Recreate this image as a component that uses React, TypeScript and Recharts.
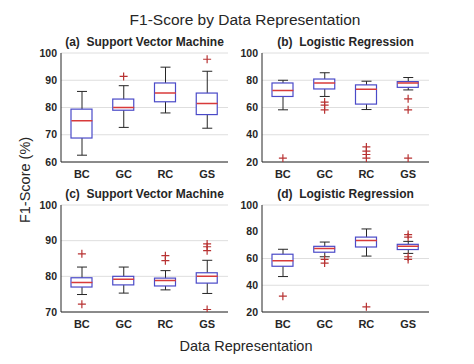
import React from "react";
import { ComposedChart, Bar, Scatter, XAxis, YAxis, CartesianGrid } from "recharts";

const categories = ["BC", "GC", "RC", "GS"];

// (a) Support Vector Machine, top row
const aLow = [62.5, 72.7, 78.0, 72.4];
const aQ1 = [68.8, 79.0, 82.1, 77.4];
const aMed = [75.1, 80.0, 85.3, 81.5];
const aQ3 = [79.4, 83.1, 89.0, 85.3];
const aHigh = [85.9, 88.0, 94.8, 93.3];
const aOut = [[], [91.4], [], [97.7]];

// (b) Logistic Regression, top row
const bLow = [58.3, 68.1, 58.5, 72.9];
const bQ1 = [68.1, 73.6, 62.5, 74.8];
const bMed = [72.4, 78.0, 73.4, 78.0];
const bQ3 = [78.0, 80.9, 76.6, 79.0];
const bHigh = [80.0, 85.5, 79.3, 82.0];
const bOut = [[22.8], [64.0, 61.7, 58.3], [31.1, 28.0, 25.5, 22.8], [66.4, 58.3, 22.8]];

// (c) Support Vector Machine, bottom row
const cLow = [74.9, 75.3, 76.2, 75.2];
const cQ1 = [77.0, 77.6, 77.3, 78.1];
const cMed = [78.3, 79.2, 78.8, 80.0];
const cQ3 = [79.6, 80.0, 79.5, 81.0];
const cHigh = [82.6, 82.6, 81.6, 84.5];
const cOut = [[86.3, 72.2], [], [85.8, 84.4], [89.1, 88.3, 87.2, 70.7]];

// (d) Logistic Regression, bottom row
const dLow = [46.5, 61.3, 61.8, 63.8];
const dQ1 = [54.2, 64.7, 68.6, 66.7];
const dMed = [58.3, 67.4, 73.5, 69.1];
const dQ3 = [63.2, 69.1, 76.0, 70.6];
const dHigh = [66.9, 72.3, 82.1, 72.8];
const dOut = [[31.8], [59.3, 56.6], [23.9], [77.9, 76.0, 61.3, 59.3]];

const ticksA = [60, 70, 80, 90, 100];
const ticksLR = [20, 40, 60, 80, 100];
const ticksC = [70, 80, 90, 100];

const FONT = "'Liberation Sans', Arial, sans-serif";
const INK = "#262626";
const BOX_BLUE = "#4a4ac8";
const MED_RED = "#d83a3a";
const OUT_RED = "#b83232";
const MAX_OUT = 5;
const BOX_W = 21;

function WhiskerShape(props: any) {
  const { x, y, width, height } = props;
  const top = Math.min(y, y + height);
  const bot = Math.max(y, y + height);
  const cx = x + width / 2;
  return (
    <g stroke={INK} strokeWidth={1}>
      <line x1={cx} x2={cx} y1={top} y2={bot} />
      <line x1={x} x2={x + width} y1={top} y2={top} />
      <line x1={x} x2={x + width} y1={bot} y2={bot} />
    </g>
  );
}

function BoxShape(props: any) {
  const { x, y, width, height } = props;
  const top = Math.min(y, y + height);
  return (
    <rect x={x} y={top} width={width} height={Math.abs(height)} fill="#fff" stroke={BOX_BLUE} strokeWidth={1.2} />
  );
}

function MedianShape(props: any) {
  const { cx, cy } = props;
  return <line x1={cx - BOX_W / 2} x2={cx + BOX_W / 2} y1={cy} y2={cy} stroke={MED_RED} strokeWidth={1.5} />;
}

const plusFor = (key: string) => (props: any) => {
  const { cx, cy, payload } = props;
  if (!payload || payload[key] == null || !isFinite(cy)) return <g />;
  return (
    <g stroke={OUT_RED} strokeWidth={1.2}>
      <line x1={cx - 4} x2={cx + 4} y1={cy} y2={cy} />
      <line x1={cx} x2={cx} y1={cy - 4} y2={cy + 4} />
    </g>
  );
};

type PanelProps = {
  title: string;
  low: number[];
  q1: number[];
  med: number[];
  q3: number[];
  high: number[];
  out: number[][];
  domain: [number, number];
  ticks: number[];
  left: number;
  top: number;
  yWidth: number;
  plotW: number;
  plotH: number;
};

function Panel({ title, low, q1, med, q3, high, out, domain, ticks, left, top, yWidth, plotW, plotH }: PanelProps) {
  const rows = categories.map((c, i) => {
    const r: any = { cat: c, whisk: [low[i], high[i]], box: [q1[i], q3[i]], med: med[i] };
    for (let k = 0; k < MAX_OUT; k++) r["out" + k] = out[i][k] ?? null;
    return r;
  });
  const mTop = 5;
  const xH = 22;
  const width = yWidth + plotW + 2;
  const height = mTop + plotH + xH;
  const tickStyle = { fontSize: 10.5, fontWeight: 700, fill: INK, fontFamily: FONT };
  return (
    <div style={{ position: "absolute", left, top, width, height }}>
      <div
        style={{
          position: "absolute",
          left: yWidth,
          width: plotW,
          top: -13,
          textAlign: "center",
          fontFamily: FONT,
          fontWeight: 700,
          fontSize: 12,
          color: INK,
          whiteSpace: "pre",
          lineHeight: "14px",
        }}
      >
        {title}
      </div>
      <ComposedChart width={width} height={height} data={rows} margin={{ top: mTop, right: 2, bottom: 0, left: 0 }}>
        <CartesianGrid vertical={false} stroke="#dedede" />
        <XAxis
          dataKey="cat"
          height={xH}
          tickSize={0}
          tickMargin={8}
          axisLine={{ stroke: INK }}
          tick={{ ...tickStyle, fontSize: 11 }}
        />
        <XAxis xAxisId="w" dataKey="cat" hide />
        <XAxis xAxisId="b" dataKey="cat" hide />
        <XAxis xAxisId="top" orientation="top" dataKey="cat" height={0} tick={false} tickLine={false} axisLine={{ stroke: INK }} />
        <YAxis
          domain={domain}
          ticks={ticks}
          type="number"
          width={yWidth}
          tickSize={0}
          tickMargin={4}
          axisLine={{ stroke: INK }}
          tick={tickStyle}
          allowDataOverflow
        />
        <YAxis yAxisId="r" orientation="right" domain={domain} width={0} tick={false} tickLine={false} axisLine={{ stroke: INK }} />
        <Bar xAxisId="w" dataKey="whisk" barSize={10} shape={WhiskerShape} isAnimationActive={false} />
        <Bar xAxisId="b" dataKey="box" barSize={BOX_W} shape={BoxShape} isAnimationActive={false} />
        <Scatter dataKey="med" shape={MedianShape} isAnimationActive={false} />
        {Array.from({ length: MAX_OUT }, (_, k) => (
          <Scatter key={k} dataKey={"out" + k} shape={plusFor("out" + k)} isAnimationActive={false} />
        ))}
      </ComposedChart>
    </div>
  );
}

export default function App() {
  return (
    <div style={{ position: "absolute", left: 0, top: 0, width: 474, height: 364, background: "#fff", fontFamily: FONT }}>
      <div style={{ position: "absolute", left: 0, width: 490, top: 11, textAlign: "center", fontSize: 15.5, color: INK }}>
        F1-Score by Data Representation
      </div>
      <div
        style={{
          position: "absolute",
          left: 25,
          top: 180,
          transform: "translate(-50%, -50%) rotate(-90deg)",
          fontSize: 14.5,
          color: INK,
          whiteSpace: "nowrap",
        }}
      >
        F1-Score (%)
      </div>
      <div style={{ position: "absolute", left: 0, width: 492, top: 338, textAlign: "center", fontSize: 14.5, color: INK }}>
        Data Representation
      </div>
      <Panel title="(a)  Support Vector Machine" low={aLow} q1={aQ1} med={aMed} q3={aQ3} high={aHigh} out={aOut}
        domain={[60, 100]} ticks={ticksA} left={0} top={48} yWidth={61} plotW={167} plotH={109} />
      <Panel title="(b)  Logistic Regression" low={bLow} q1={bQ1} med={bMed} q3={bQ3} high={bHigh} out={bOut}
        domain={[20, 100]} ticks={ticksLR} left={222} top={48} yWidth={40} plotW={167} plotH={109} />
      <Panel title="(c)  Support Vector Machine" low={cLow} q1={cQ1} med={cMed} q3={cQ3} high={cHigh} out={cOut}
        domain={[70, 100]} ticks={ticksC} left={0} top={200} yWidth={61} plotW={167} plotH={107} />
      <Panel title="(d)  Logistic Regression" low={dLow} q1={dQ1} med={dMed} q3={dQ3} high={dHigh} out={dOut}
        domain={[20, 100]} ticks={ticksLR} left={222} top={200} yWidth={40} plotW={167} plotH={107} />
    </div>
  );
}
